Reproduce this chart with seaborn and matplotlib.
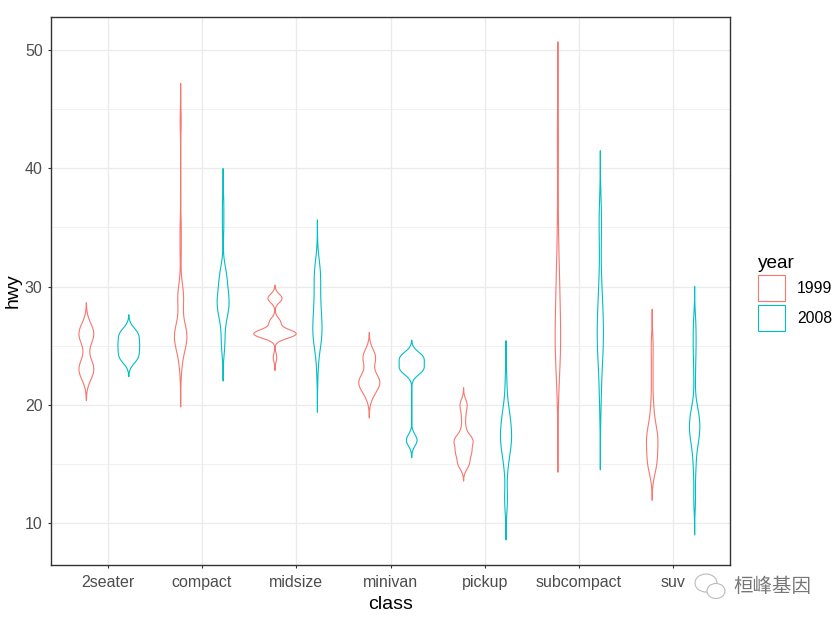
import numpy as np
import pandas as pd
import seaborn as sns
import matplotlib.pyplot as plt
from matplotlib.patches import Ellipse

# hwy values per class and year
classes = ["2seater", "compact", "midsize", "minivan", "pickup", "subcompact", "suv"]
years = ["1999", "2008"]

seater_99 = [23, 26]
seater_08 = [24, 25, 26]
compact_99 = [23, 24, 25, 25, 25, 25, 26, 26, 26, 26, 26, 26, 26, 26, 26, 27, 29, 29, 29, 29, 29, 30, 33, 35, 44]
compact_08 = [25, 25, 26, 27, 28, 28, 28, 28, 28, 29, 29, 29, 29, 29, 30, 30, 31, 31, 31, 31, 35, 37]
midsize_99 = [24, 26, 26, 26, 26, 26, 26, 26, 26, 26, 26, 26, 26, 27, 27, 27, 29, 29, 29, 29]
midsize_08 = [23, 25, 25, 26, 26, 26, 26, 26, 27, 27, 28, 28, 28, 29, 29, 30, 31, 31, 31, 31, 32]
minivan_99 = [21, 22, 22, 22, 24, 24]
minivan_08 = [17, 23, 23, 24, 24]
pickup_99 = [15, 15, 15, 16, 16, 16, 16, 17, 17, 17, 17, 17, 18, 19, 20, 20]
pickup_08 = [12, 12, 15, 15, 16, 17, 17, 17, 17, 17, 18, 18, 19, 19, 19, 20, 22]
subcompact_99 = [21, 23, 24, 24, 25, 25, 26, 26, 26, 27, 29, 29, 29, 31, 31, 33, 36, 41, 44]
subcompact_08 = [20, 22, 24, 24, 25, 26, 26, 26, 27, 28, 29, 29, 31, 34, 36, 36]
suv_99 = [15, 15, 15, 15, 15, 15, 15, 15, 16, 16, 17, 17, 17, 17, 17, 17, 17, 17, 18, 18, 18, 18, 19, 20, 20, 22, 23, 25, 25]
suv_08 = [12, 12, 14, 15, 15, 16, 17, 17, 17, 17, 17, 18, 18, 18, 18, 18, 18, 19, 19, 19, 19, 19, 19, 20, 20, 22, 23, 24, 25, 25, 26, 27, 27]

groups = {
    "2seater": (seater_99, seater_08),
    "compact": (compact_99, compact_08),
    "midsize": (midsize_99, midsize_08),
    "minivan": (minivan_99, minivan_08),
    "pickup": (pickup_99, pickup_08),
    "subcompact": (subcompact_99, subcompact_08),
    "suv": (suv_99, suv_08),
}

rows = []
for cl, (v99, v08) in groups.items():
    rows += [(cl, "1999", v) for v in v99]
    rows += [(cl, "2008", v) for v in v08]
df = pd.DataFrame(rows, columns=["class", "year", "hwy"])


# same rule of thumb as R's bw.nrd0, given as a factor of the sd
def nrd0_factor(kde):
    x = kde.dataset.ravel()
    sd = x.std(ddof=1)
    q1, q3 = np.percentile(x, [25, 75])
    return 0.9 * min(sd, (q3 - q1) / 1.34) * len(x) ** -0.2 / sd


plt.rcParams["font.family"] = ["Liberation Sans", "DejaVu Sans"]

fig = plt.figure(figsize=(8.38, 6.22), dpi=100)
ax = fig.add_axes([51 / 838, 1 - 565 / 622, 679 / 838, 548 / 622])

sns.violinplot(data=df, x="class", y="hwy", hue="year", order=classes, hue_order=years,
               palette=["#F8766D", "#00BFC4"], fill=False, inner=None, width=0.9, gap=0,
               density_norm="area", common_norm=True, cut=3, bw_method=nrd0_factor, gridsize=512,
               linewidth=0.8, saturation=1, ax=ax)

ax.set_xlim(-0.6, 6.6)
ax.set_ylim(6.45, 52.8)
ax.set_yticks([10, 20, 30, 40, 50])
ax.set_yticks([15, 25, 35, 45], minor=True)
ax.set_axisbelow(True)
ax.grid(True, which="major", color="#EBEBEB", lw=1)
ax.grid(True, which="minor", axis="y", color="#EBEBEB", lw=0.5)
ax.tick_params(which="major", length=2.5, width=0.8, color="#333333", labelcolor="#4D4D4D", labelsize=11.5)
ax.tick_params(axis="x", pad=5)
ax.tick_params(which="minor", length=0)
ax.set_xlabel("class", fontsize=14, labelpad=4)
ax.set_ylabel("hwy", fontsize=14, labelpad=2)
for s in ax.spines.values():
    s.set_color("#333333")
    s.set_linewidth(1)

sns.move_legend(ax, "upper left", bbox_to_anchor=(1.013, 0.6), frameon=False, title="year",
                fontsize=11.3, title_fontsize=13.7, handlelength=1.77, handleheight=2.2,
                handletextpad=0.75, labelspacing=0.2, borderaxespad=0.8)
ax.get_legend()._legend_box.align = "left"

# watermark bottom right
fig.text(733 / 838, 1 - 587 / 622, "桓峰基因", fontsize=14, color="#777777", va="center",
         family=["Noto Sans CJK SC", "DejaVu Sans"])
for cx, cy, w, h in [(706, 583, 22, 18), (716, 591, 18, 15)]:
    fig.add_artist(Ellipse((cx / 838, 1 - cy / 622), w / 838, h / 622, fc="white", ec="#BBBBBB",
                           lw=0.8, transform=fig.transFigure))

fig.savefig("out.png", dpi=100)
